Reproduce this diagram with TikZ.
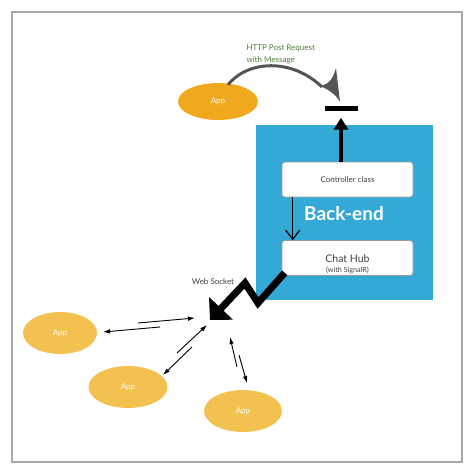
\documentclass[tikz,border=0pt]{standalone}
\usepackage{fontspec}
\setmainfont{Lato}
\usetikzlibrary{arrows.meta,shapes.geometric,calc}
\definecolor{apporange}{HTML}{F0A91E}
\definecolor{appyellow}{HTML}{F3C14F}
\definecolor{backblue}{HTML}{34A9D6}
\definecolor{labelgreen}{HTML}{4E7D3A}
\definecolor{curvegray}{HTML}{555555}
\definecolor{framegray}{HTML}{A8A8A8}
\tikzset{
  app/.style={ellipse, fill=appyellow, text=white, minimum width=78pt, minimum height=42pt, inner sep=0pt, font=\fontsize{8}{9}\selectfont},
  classbox/.style={draw=gray!80, fill=white, rounded corners=3pt, minimum width=131pt, minimum height=35pt, inner sep=0pt, line width=0.6pt},
  wsarrow/.style={-{Latex[length=7pt,width=4.5pt]}, line width=0.9pt},
}

\begin{document}
\begin{tikzpicture}[x=1pt,y=-1pt]
  \useasboundingbox (0,0) rectangle (474,474);
  \draw[framegray, line width=1.5pt] (12,12) rectangle (462,462);
  % back-end
  \fill[backblue] (256,125) rectangle (433,300);
  \node[classbox, font=\fontsize{8}{9}\selectfont, text=black!75] (ctrl) at (347.5,179.5) {Controller class};
  \node[classbox, align=center, text=black!75, font=\fontsize{10.5}{11}\selectfont] (hub) at (347.5,258)
    {\shortstack{\rule{0pt}{20pt}Chat Hub\\[2pt]{\fontsize{7.2}{8}\selectfont (with SignalR)}}};
  \node[font=\bfseries\fontsize{19}{20}\selectfont, text=white] (backend) at (344,214) {Back-end};
  \node[fill=black, minimum width=33pt, minimum height=5pt, inner sep=0pt] (endpoint) at (341,108) {};
  \draw[line width=4pt, -{Triangle[length=12pt,width=14pt]}, shorten >=7pt] (ctrl.north -| endpoint) -- (endpoint.south);
  \draw[line width=1.2pt, -{Straight Barb[length=9pt,width=14pt]}] ($(ctrl.south west)+(11,0)$) -- ($(hub.north west)+(11,0)$);
  % http request
  \node[app, fill=apporange, minimum width=80pt, minimum height=37pt] (apphttp) at (218,101.5) {App};
  \node[text=labelgreen, align=left, anchor=north west, font=\fontsize{8}{12}\selectfont] (httplabel) at (243,41) {HTTP Post Request\\with Message};
  \draw[curvegray, line width=3pt] ($(apphttp.north)+(10,2)$) .. controls (248,60) and (292,58) .. (322,87);
  \fill[curvegray] (340,102) -- (336,68) .. controls (333,78) and (330,84) .. (320,86) .. controls (330,90) and (336,95) .. cycle;
  % web socket
  \coordinate (socket) at (210,320);
  \draw[line width=7pt, line join=miter, -{Triangle[length=16pt,width=32pt]}] ($(hub.south west)+(3,-3)$) -- (258,303) -- (245,283) -- (socket);
  \node[font=\fontsize{8}{9}\selectfont, text=black!75] (wslabel) at (213,282) {Web Socket};
  \foreach \n/\x/\y/\w in {a/60/333/74, b/128/387/79, c/243/411/78}
    \node[app, minimum width=\w pt] (app\n) at (\x,\y) {App};
  \foreach \xa/\ya/\xb/\yb in {138/323/195/318, 160/327/103/332, 177/353/207/325, 192/347/163/375, 237/367/230/337, 239/355/247/383}
    \draw[wsarrow] (\xa,\ya) -- (\xb,\yb);
\end{tikzpicture}
\end{document}
